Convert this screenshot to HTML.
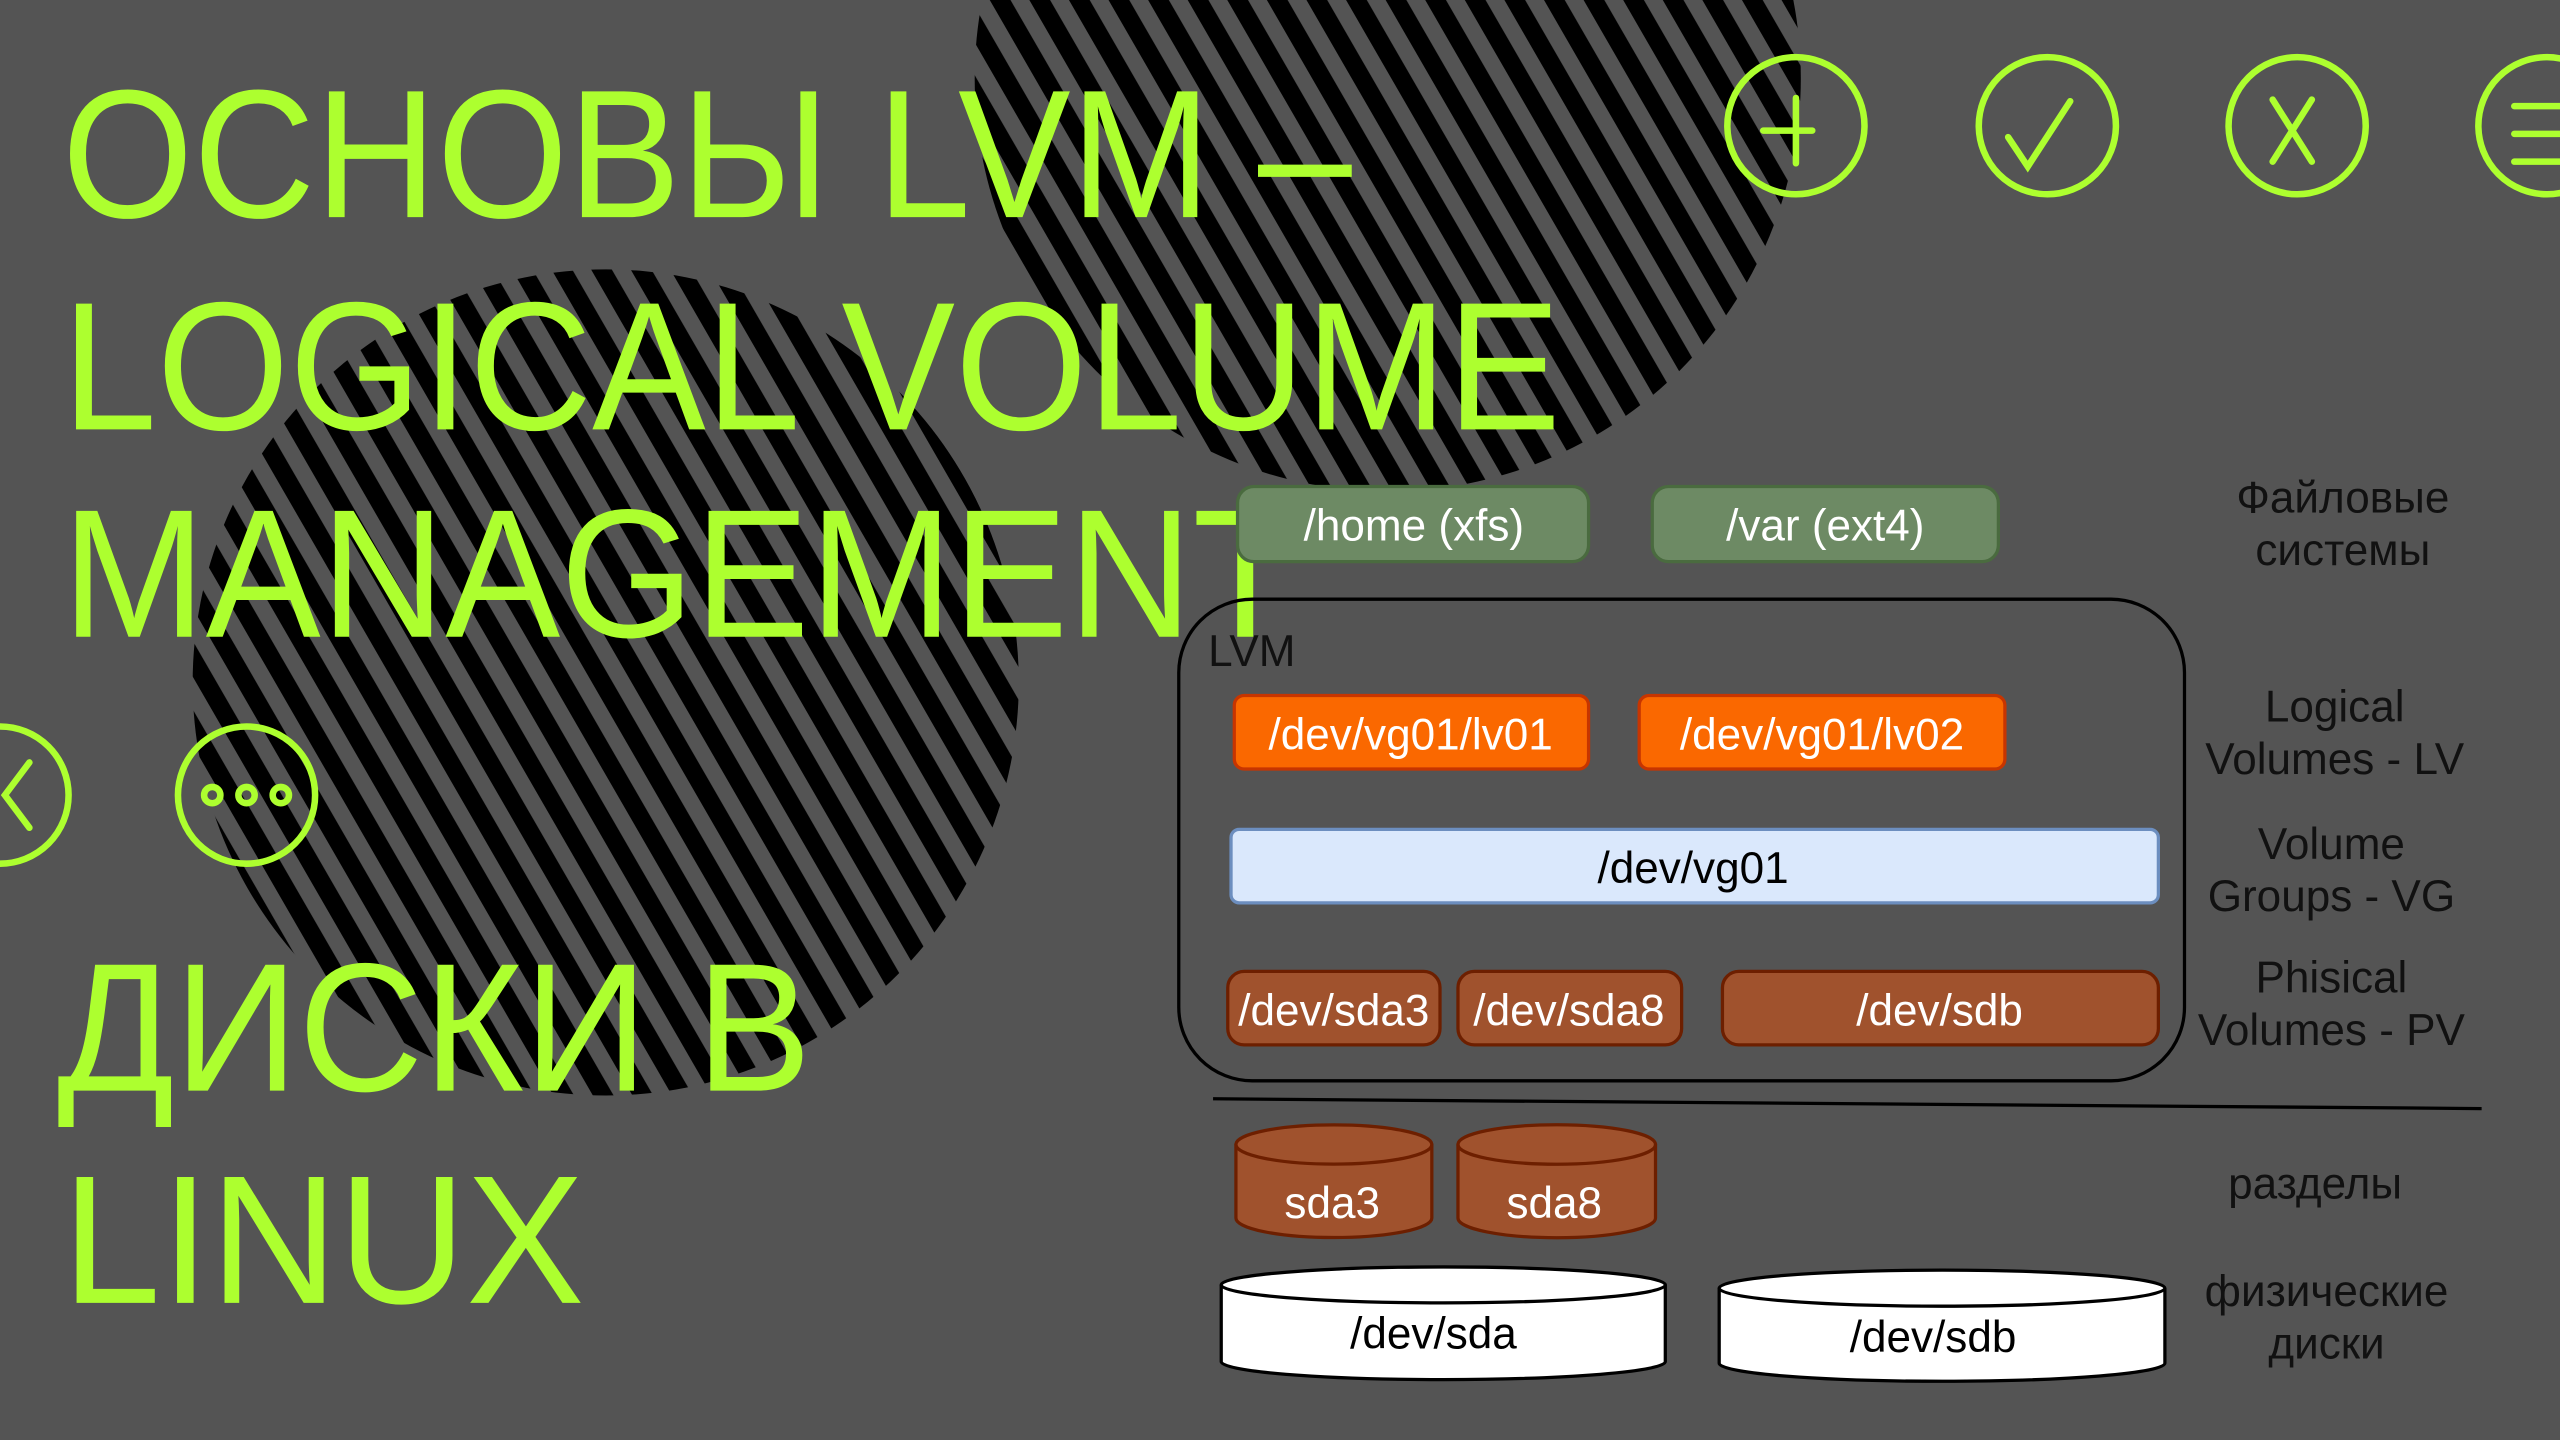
<!DOCTYPE html>
<html><head><meta charset="utf-8"><style>
html,body{margin:0;padding:0;background:#545454;overflow:hidden}
svg{display:block}
.t{font-family:"Liberation Sans Narrow","Liberation Sans","Noto Sans CJK SC",sans-serif;fill:#adff2f;font-size:112px}
.l{font-family:"Liberation Sans Narrow","Liberation Sans","Noto Sans CJK SC",sans-serif;font-size:27px}
</style></head><body>
<svg width="2560" height="1440" viewBox="0 0 1568 882" xmlns="http://www.w3.org/2000/svg">
<defs>
<pattern id="st" width="21" height="21" patternUnits="userSpaceOnUse" patternTransform="rotate(-30)">
<rect width="11" height="21" fill="#000"/>
</pattern>
</defs>
<rect width="1568" height="882" fill="#545454"/>
<circle cx="850" cy="48" r="253" fill="url(#st)"/>
<circle cx="371" cy="418" r="253" fill="url(#st)"/>
<g class="t">
<text x="38" y="133" textLength="790" lengthAdjust="spacingAndGlyphs">ОСНОВЫ LVM –</text>
<text x="38" y="263" textLength="918" lengthAdjust="spacingAndGlyphs">LOGICAL VOLUME</text>
<text x="38" y="390" textLength="757" lengthAdjust="spacingAndGlyphs">MANAGEMENT</text>
<text x="35" y="668" textLength="462" lengthAdjust="spacingAndGlyphs">ДИСКИ В</text>
<text x="38" y="798" textLength="320" lengthAdjust="spacingAndGlyphs">LINUX</text>
</g>
<g fill="none" stroke="#adff2f" stroke-width="4" stroke-linecap="round">
<circle cx="1100" cy="77" r="42"/><path d="M1080 80H1110M1100 60V100"/>
<circle cx="1254" cy="77" r="42"/><path d="M1230 84L1242 102L1268 62"/>
<circle cx="1407" cy="77" r="42"/><path d="M1392 61L1416 99M1416 61L1392 99"/>
<circle cx="1560" cy="77" r="42"/><path d="M1540 65H1570M1540 82H1570M1540 99H1570"/>
<circle cx="0" cy="487" r="42"/><path d="M18 467L3 487L18 507"/>
<circle cx="151" cy="487" r="42"/>
<circle cx="130" cy="487" r="5"/><circle cx="151" cy="487" r="5"/><circle cx="172" cy="487" r="5"/>
</g>
<g class="l" text-anchor="middle">
<rect x="758" y="298" width="215" height="46" rx="10" fill="#6d8a64" stroke="#4a6b3f" stroke-width="2"/>
<text x="866" y="331" fill="#fff">/home (xfs)</text>
<rect x="1012" y="298" width="212" height="46" rx="10" fill="#6d8a64" stroke="#4a6b3f" stroke-width="2"/>
<text x="1118" y="331" fill="#fff">/var (ext4)</text>
<rect x="722" y="367" width="616" height="295" rx="45" fill="none" stroke="#000" stroke-width="2"/>
<text x="740" y="408" fill="#111" text-anchor="start">LVM</text>
<rect x="756" y="426" width="217" height="45" rx="6" fill="#fa6800" stroke="#c73500" stroke-width="2"/>
<text x="864" y="459" fill="#fff">/dev/vg01/lv01</text>
<rect x="1004" y="426" width="224" height="45" rx="6" fill="#fa6800" stroke="#c73500" stroke-width="2"/>
<text x="1116" y="459" fill="#fff">/dev/vg01/lv02</text>
<rect x="754" y="508" width="568" height="45" rx="5" fill="#dae8fc" stroke="#6c8ebf" stroke-width="2"/>
<text x="1037" y="541" fill="#000">/dev/vg01</text>
<rect x="752" y="595" width="130" height="45" rx="10" fill="#a0522d" stroke="#6d1f00" stroke-width="2"/>
<text x="817" y="628" fill="#fff">/dev/sda3</text>
<rect x="893" y="595" width="137" height="45" rx="10" fill="#a0522d" stroke="#6d1f00" stroke-width="2"/>
<text x="961" y="628" fill="#fff">/dev/sda8</text>
<rect x="1055" y="595" width="267" height="45" rx="10" fill="#a0522d" stroke="#6d1f00" stroke-width="2"/>
<text x="1188" y="628" fill="#fff">/dev/sdb</text>
<path d="M743 673L1520 679" stroke="#000" stroke-width="2"/>
<path d="M757 701V746A60 12 0 0 0 877 746V701A60 12 0 0 0 757 701Z" fill="#a0522d" stroke="#6d1f00" stroke-width="2"/>
<path d="M757 701A60 12 0 0 0 877 701" fill="none" stroke="#6d1f00" stroke-width="2"/>
<text x="816" y="746" fill="#fff">sda3</text>
<path d="M893 701V746A60 12 0 0 0 1014 746V701A60 12 0 0 0 893 701Z" fill="#a0522d" stroke="#6d1f00" stroke-width="2"/>
<path d="M893 701A60 12 0 0 0 1014 701" fill="none" stroke="#6d1f00" stroke-width="2"/>
<text x="952" y="746" fill="#fff">sda8</text>
<path d="M748 787V834A136 11 0 0 0 1020 834V787A136 11 0 0 0 748 787Z" fill="#fff" stroke="#000" stroke-width="2"/>
<path d="M748 787A136 11 0 0 0 1020 787" fill="none" stroke="#000" stroke-width="2"/>
<text x="878" y="826" fill="#000">/dev/sda</text>
<path d="M1053 789V835A136 11 0 0 0 1326 835V789A136 11 0 0 0 1053 789Z" fill="#fff" stroke="#000" stroke-width="2"/>
<path d="M1053 789A136 11 0 0 0 1326 789" fill="none" stroke="#000" stroke-width="2"/>
<text x="1184" y="828" fill="#000">/dev/sdb</text>
<g fill="#111">
<text x="1435" y="314">Файловые</text><text x="1435" y="346">системы</text>
<text x="1430" y="442">Logical</text><text x="1430" y="474">Volumes - LV</text>
<text x="1428" y="526">Volume</text><text x="1428" y="558">Groups - VG</text>
<text x="1428" y="608">Phisical</text><text x="1428" y="640">Volumes - PV</text>
<text x="1418" y="734">разделы</text>
<text x="1425" y="800">физические</text><text x="1425" y="832">диски</text>
</g>
</g>
</svg>
</body></html>
